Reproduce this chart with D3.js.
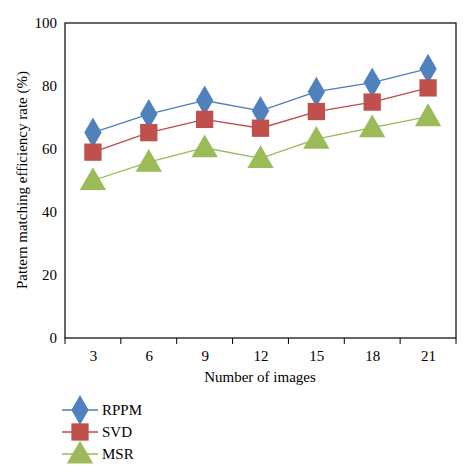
<!DOCTYPE html>
<html><head><meta charset="utf-8">
<script src="https://cdn.jsdelivr.net/npm/d3@7"></script>
<style>body{margin:0;background:#fff}</style></head>
<body><svg id="c" width="474" height="476"></svg>
<script>
const categories = ["3","6","9","12","15","18","21"];
const rppm = [65.2, 71.1, 75.4, 72.1, 78.2, 81.1, 85.5];
const svd = [59.0, 65.2, 69.4, 66.6, 71.9, 74.9, 79.4];
const msr = [50.0, 55.8, 60.4, 57.0, 63.1, 66.8, 70.3];
const yTicks = [0,20,40,60,80,100];
const seriesNames = ["RPPM","SVD","MSR"];
const colors = ["#4f81bd","#c0504d","#9bbb59"];
const lineColors = ["#4a7ebb","#be4b48","#98b954"];

const svg = d3.select("#c");
const font = "Liberation Serif, Times New Roman, serif";
const L=65,R=456,T=23,B=338;
const x = d3.scalePoint().domain(categories).range([L,R]).padding(0.5);
const y = d3.scaleLinear().domain([0,100]).range([B,T]);

svg.append("rect").attr("x",L).attr("y",T).attr("width",R-L).attr("height",B-T)
  .attr("fill","none").attr("stroke","#000").attr("stroke-width",1.2);

const ya = svg.append("g").attr("transform",`translate(${L},0)`)
  .call(d3.axisLeft(y).tickValues(yTicks).tickSize(0).tickPadding(8));
ya.select(".domain").remove();
ya.selectAll("text").attr("font-family",font).attr("font-size",15).attr("fill","#000");

const xa = svg.append("g").attr("transform",`translate(0,${B})`)
  .call(d3.axisBottom(x).tickSize(6).tickPadding(6));
xa.select(".domain").remove();
xa.selectAll("text").attr("font-family",font).attr("font-size",15).attr("fill","#000");
// tick marks between categories
const step = x.step();
svg.append("g").selectAll("line").data(d3.range(categories.length+1)).join("line")
  .attr("x1",i=>L+i*step).attr("x2",i=>L+i*step).attr("y1",B).attr("y2",B+6).attr("stroke","#000");
xa.selectAll(".tick line").remove();

svg.append("text").attr("x",260).attr("y",382).attr("text-anchor","middle")
  .attr("font-family",font).attr("font-size",15).text("Number of images");
svg.append("text").attr("transform","translate(27,180) rotate(-90)").attr("text-anchor","middle")
  .attr("font-family",font).attr("font-size",15).text("Pattern matching efficiency rate (%)");

const data=[rppm,svd,msr];
const symbols=[d3.symbolDiamond,d3.symbolSquare,d3.symbolTriangle];
const sizes=[260,300,300];
const line=d3.line().x((d,i)=>x(categories[i])).y(d=>y(d));
data.forEach((s,k)=>{
  svg.append("path").attr("d",line(s)).attr("fill","none").attr("stroke",lineColors[k]).attr("stroke-width",1.3);
  svg.append("g").selectAll("path").data(s).join("path")
    .attr("d",d3.symbol().type(symbols[k]).size(sizes[k]))
    .attr("transform",(d,i)=>`translate(${x(categories[i])},${y(d)+(k==2?2:0)})`)
    .attr("fill",colors[k]);
});

seriesNames.forEach((n,k)=>{
  const yy=410+k*22;
  svg.append("line").attr("x1",62).attr("x2",98).attr("y1",yy).attr("y2",yy).attr("stroke",lineColors[k]).attr("stroke-width",1.3);
  svg.append("path").attr("d",d3.symbol().type(symbols[k]).size(sizes[k]))
    .attr("transform",`translate(80,${yy+(k==2?2:0)})`).attr("fill",colors[k]);
  svg.append("text").attr("x",102).attr("y",yy+5).attr("font-family",font).attr("font-size",15).text(n);
});
</script></body></html>
